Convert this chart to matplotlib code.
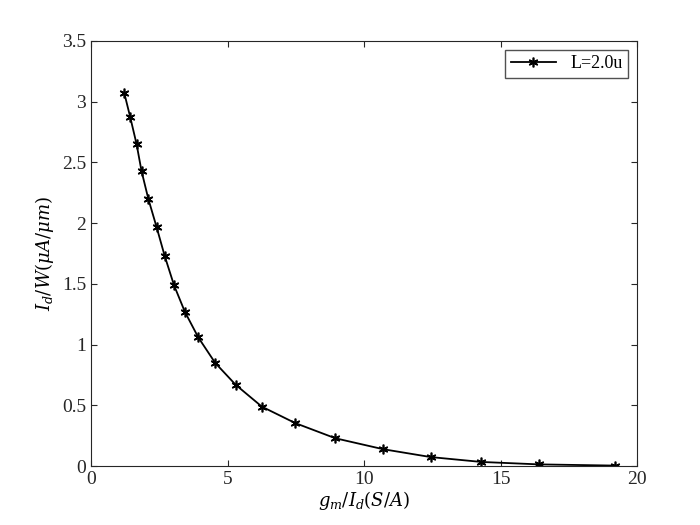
import matplotlib.pyplot as plt

gm_id = [1.22, 1.44, 1.67, 1.85, 2.1, 2.4, 2.7, 3.04, 3.44, 3.93, 4.55, 5.3, 6.26,
         7.48, 8.95, 10.7, 12.45, 14.3, 16.4, 19.2]
id_w = [3.07, 2.87, 2.65, 2.43, 2.2, 1.97, 1.73, 1.49, 1.27, 1.06, 0.85, 0.67, 0.49,
        0.355, 0.23, 0.14, 0.075, 0.035, 0.015, 0.005]

plt.rcParams['font.family'] = ['Liberation Serif', 'DejaVu Serif']
plt.rcParams['mathtext.fontset'] = 'dejavuserif'

fig = plt.figure(figsize=(7, 5.25), dpi=100)
ax = fig.add_axes([0.13, 0.112, 0.78, 0.81])
ax.plot(gm_id, id_w, color='black', lw=1.3, marker=(6, 2, 0), ms=7, mew=1.2,
        label='L=2.0u')
ax.set_xlim(0, 20)
ax.set_ylim(0, 3.5)
ax.set_xticks([0, 5, 10, 15, 20])
ax.set_yticks([0, 0.5, 1, 1.5, 2, 2.5, 3, 3.5])
ax.set_yticklabels(['0', '0.5', '1', '1.5', '2', '2.5', '3', '3.5'])
for s in ax.spines.values():
    s.set_color('#262626')
ax.tick_params(direction='in', top=True, right=True, labelsize=14, length=4,
               colors='#262626')
ax.set_xlabel(r'$g_m/I_d(S/A)$', fontsize=13, labelpad=1)
ax.set_ylabel(r'$I_d/W(\mu A/\mu m)$', fontsize=13)
ax.legend(loc='upper right', fontsize=13, fancybox=False, edgecolor='#262626',
          handlelength=2.5, borderpad=0.3)
fig.savefig('out.png', dpi=100)
